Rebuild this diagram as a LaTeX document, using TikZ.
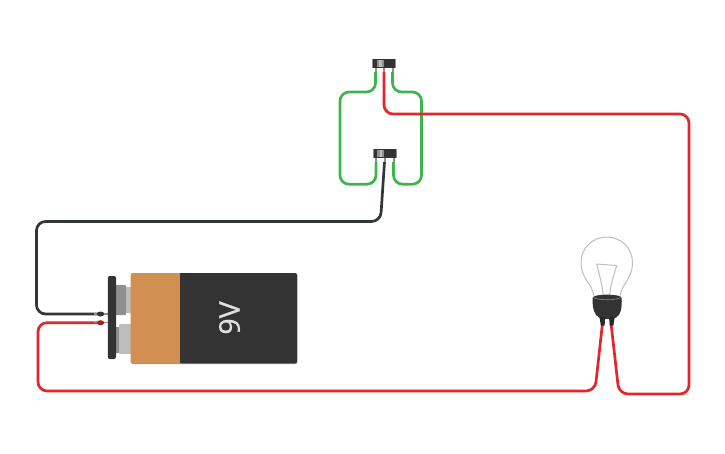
\documentclass[tikz,border=0pt]{standalone}
\usepackage{fontspec}
\setmainfont{Open Sans}
\newfontfamily\voltfont[FakeBold=0.7]{Open Sans}
\definecolor{wgreen}{HTML}{3DB54A}
\definecolor{wred}{HTML}{E4252B}
\definecolor{wblack}{HTML}{333638}
\definecolor{dark}{HTML}{333333}
\definecolor{orange}{HTML}{D18F52}
\definecolor{midgray}{HTML}{8F8F8F}
\definecolor{lightgray}{HTML}{BDBDBD}
\definecolor{glass}{HTML}{BEBEBE}
\tikzset{
  wire/.style={line width=2.7pt,rounded corners=9pt,line join=round},
  switchbody/.style={fill=dark,draw=none,minimum width=24pt,minimum height=8.6pt,inner sep=0pt},
  slider/.style={fill=midgray,draw=none,minimum width=7pt,minimum height=6.6pt,inner sep=0pt},
  pin/.style={line width=2pt,draw=midgray},
  thinglass/.style={draw=glass,line width=1pt,line join=round}
}
\begin{document}
\begin{tikzpicture}[x=1pt,y=-1pt]
\useasboundingbox (0,0) rectangle (725,453);
% named anchor points
\coordinate (s1a) at (375.5,72); \coordinate (s1b) at (384,72); \coordinate (s1c) at (392.5,72);
\coordinate (s2a) at (376,162); \coordinate (s2b) at (384.5,162); \coordinate (s2c) at (393.5,162);
\coordinate (batblack) at (97,314); \coordinate (batred) at (97,322.7);
\coordinate (bulbl) at (602.5,323); \coordinate (bulbr) at (611,323);
% wires
\draw[wire,wgreen] (s1a) -- (375.5,92) -- (340,92) -- (340,184.2) -- (376,184.2) -- (s2a);
\draw[wire,wgreen] (s1c) -- (392.5,92) -- (421.5,92) -- (421.5,184.2) -- (393.5,184.2) -- (s2c);
\draw[wire,wred] (s1b) -- (384,114) -- (689,114) -- (689,394) -- (619,394) -- (bulbr);
\draw[wire,wred] (batred) -- (38,322.7) -- (38,391) -- (595,391) -- (bulbl);
\draw[wire,wblack] (s2b) -- (380.5,221.5) -- (36.5,221.5) -- (36.5,314) -- (batblack);
% switch 1
\foreach \p in {375.5,384,392.5} \draw[pin] (\p,66) -- (\p,72);
\node[switchbody] (sw1) at (384,63.3) {};
\fill[midgray] (372,59) rectangle (373,67.6);
\fill[midgray] (395,59) rectangle (396,67.6);
\node[slider] (sl1) at (380,63.3) {};
\fill[lightgray] (379,60) rectangle (381.5,66.6);
% switch 2
\foreach \p in {376,384.5,393.5} \draw[pin] (\p,157) -- (\p,162);
\node[switchbody] (sw2) at (385,153.7) {};
\fill[midgray] (373,149.4) rectangle (374,158);
\fill[midgray] (396,149.4) rectangle (397,158);
\node[slider] (sl2) at (380.5,153.7) {};
\fill[lightgray] (379.5,150.4) rectangle (382,157);
% battery terminals
\fill[lightgray,rounded corners=1pt] (125,287) rectangle (132,313);
\fill[midgray,rounded corners=1pt] (115,285) rectangle (126,315);
\fill[midgray,rounded corners=1pt] (115,327) rectangle (120,353);
\fill[lightgray,rounded corners=1pt] (119,324) rectangle (132,354);
% battery body
\fill[midgray,rounded corners=2pt] (131,273.2) rectangle (297.3,364);
\fill[orange,rounded corners=2pt] (130.6,273) rectangle (182,363.5);
\fill[dark,rounded corners=2pt] (180,273) rectangle (297,363.3);
\fill[dark] (180,273) rectangle (184,363.3);
\node[rotate=90,text=white!88!black,font=\voltfont\fontsize{28.5}{29}\selectfont,inner sep=0pt] (nine) at (229.5,318) {9V};
% battery clip
\draw[midgray,line width=1.4pt] (94,314) -- (108,314);
\draw[midgray,line width=1.4pt] (94,322.7) -- (108,322.7);
\fill[dark] (100.5,314) ellipse (3.8pt and 2.5pt);
\fill[wred!75!black] (100.5,322.7) ellipse (3.8pt and 2.5pt);
\fill[dark,rounded corners=2pt] (107.8,276) rectangle (116,359);
% bulb
\draw[thinglass] (594,296) .. controls (592,283) and (581,279) .. (581,262.5)
  .. controls (581,248) and (592.5,237) .. (606.7,237)
  .. controls (621,237) and (632.5,248) .. (632.5,262.5)
  .. controls (632.5,279) and (622,283) .. (620,296);
\draw[thinglass] (603.3,297) .. controls (602.5,285) and (600,278) .. (596.7,264) -- (616.7,265.5)
  .. controls (613,278) and (610.5,285) .. (609.5,297);
\fill[dark] (592.5,298) .. controls (592.5,293.5) and (621.7,293.5) .. (621.7,298)
  .. controls (622,308) and (621,315) .. (616,317.5)
  .. controls (613,319.5) and (602,319.5) .. (599,317.5)
  .. controls (594,315) and (592.5,308) .. cycle;
\draw[white!45!dark,line width=0.6pt] (593.5,297.5) .. controls (598,300.5) and (616,300.5) .. (620.5,297.5);
\fill[dark!80!black] (599.5,317) -- (605.2,317) -- (604.6,325.5) -- (600.8,325.5) -- cycle;
\fill[dark!80!black] (609,317) -- (614.7,317) -- (613.4,325.5) -- (609.8,325.5) -- cycle;
\end{tikzpicture}
\end{document}
